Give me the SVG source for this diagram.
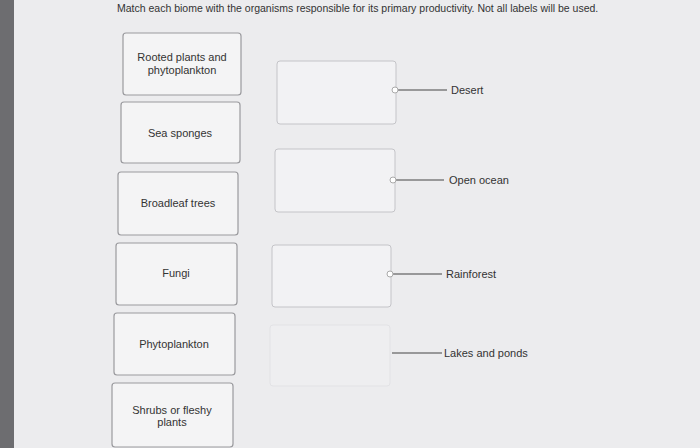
<svg xmlns="http://www.w3.org/2000/svg" width="700" height="448" viewBox="0 0 700 448">
<style>
text{font-family:"Liberation Sans",Arial,sans-serif;font-size:11px;fill:#333}
.lb{fill:#f4f4f5;stroke:#9a9a9e;stroke-width:1.2}
.rb{fill:#f2f2f4;stroke:#c4c4c8;stroke-width:1}
.ln{stroke:#444;stroke-width:1}
.c{fill:#fff;stroke:#aaa;stroke-width:1}
</style>
<rect width="700" height="448" fill="#ececee"/>
<rect x="0" y="0" width="14" height="448" fill="#6d6d70"/>
<text x="117" y="12" style="font-size:10.5px">Match each biome with the organisms responsible for its primary productivity. Not all labels will be used.</text>
<g id="l1"><rect class="lb" x="123" y="33" width="118" height="62" rx="3"/><text x="182" y="61" text-anchor="middle">Rooted plants and</text><text x="182" y="74" text-anchor="middle">phytoplankton</text></g>
<g id="l2"><rect class="lb" x="121" y="102" width="119" height="61" rx="3"/><text x="180" y="137" text-anchor="middle">Sea sponges</text></g>
<g id="l3"><rect class="lb" x="118" y="172" width="120" height="63" rx="3"/><text x="178" y="207" text-anchor="middle">Broadleaf trees</text></g>
<g id="l4"><rect class="lb" x="116" y="243" width="121" height="62" rx="3"/><text x="176" y="277" text-anchor="middle">Fungi</text></g>
<g id="l5"><rect class="lb" x="114" y="313" width="121" height="62" rx="3"/><text x="174" y="348" text-anchor="middle">Phytoplankton</text></g>
<g id="l6"><rect class="lb" x="112" y="383" width="121" height="64" rx="3"/><text x="172" y="414" text-anchor="middle">Shrubs or fleshy</text><text x="172" y="426" text-anchor="middle">plants</text></g>
<g id="t1"><rect class="rb" x="277" y="61" width="119" height="63" rx="3"/><text x="451" y="94">Desert</text></g>
<g id="t2"><rect class="rb" x="275" y="149" width="120" height="63" rx="3"/><text x="449" y="184">Open ocean</text></g>
<g id="t3"><rect class="rb" x="272" y="245" width="119" height="62" rx="3"/><text x="446" y="278">Rainforest</text></g>
<g id="t4"><rect x="270" y="325" width="120" height="61" rx="3" fill="#eeeef0" stroke="#e2e2e5"/><text x="444" y="357">Lakes and ponds</text></g>
<g id="connectors">
<line class="ln" x1="395" y1="90" x2="447" y2="90"/><circle class="c" cx="395" cy="90" r="3"/>
<line class="ln" x1="392" y1="180" x2="444" y2="180"/><circle class="c" cx="393" cy="180" r="3"/>
<line class="ln" x1="390" y1="274" x2="442" y2="274"/><circle class="c" cx="390" cy="274" r="3"/>
<line class="ln" x1="392" y1="353" x2="442" y2="353"/>
</g>
</svg>
